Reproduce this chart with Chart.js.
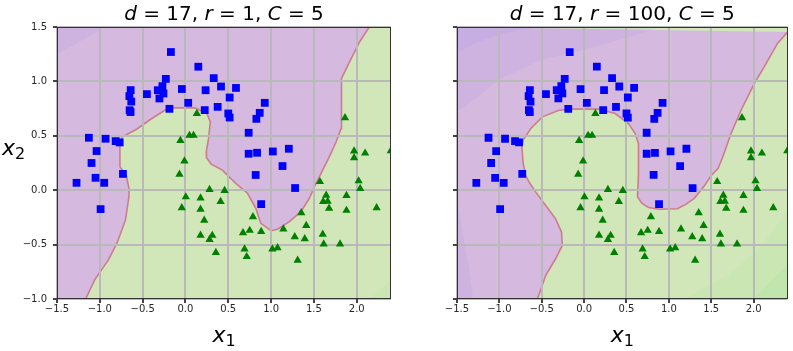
<!DOCTYPE html>
<html>
<head>
<meta charset="utf-8">
<script src="https://cdn.jsdelivr.net/npm/chart.js@4"></script>
<style>
    html, body { margin: 0; padding: 0; background: #fff; }
    #wrap { position: relative; width: 793px; height: 351px; }
    canvas { position: absolute; top: 0; }
</style>
</head>
<body>
<div id="wrap">
    <canvas id="left" width="400" height="351" style="left:0"></canvas>
    <canvas id="right" width="393" height="351" style="left:400px"></canvas>
</div>
<script>
// axes
const xRange = [-1.5, 2.4];
const yRange = [-1.0, 1.5];
const xTicks = [-1.5, -1.0, -0.5, 0.0, 0.5, 1.0, 1.5, 2.0];
const xTickLabels = ['\u22121.5', '\u22121.0', '\u22120.5', '0.0', '0.5', '1.0', '1.5', '2.0'];
const yTicks = [-1.0, -0.5, 0.0, 0.5, 1.0, 1.5];
const yTickLabels = ['\u22121.0', '\u22120.5', '0.0', '0.5', '1.0', '1.5'];

// samples, class 0 (blue squares)
const blueX = [-0.17, 0.15, 0.33, 0.415, 0.59, 0.235, -0.042, -0.229, -0.269, -0.323, -0.257, -0.304,
    -0.187, 0.032, 0.225, 0.376, 0.516, 0.5, 0.516, -0.64, -0.655, -0.633, -0.652, -0.641, -0.45,
    -1.128, -0.933, -0.815, -0.768, -1.038, -1.097, -1.272, -1.05, -0.949, -0.991, -0.73,
    0.926, 0.867, 0.828, 0.738, 0.738, 0.836, 1.02, 1.207, 1.133, 0.82, 1.28, 0.884];
const blueY = [1.27, 1.135, 1.03, 0.953, 0.94, 0.919, 0.93, 1.023, 0.956, 0.919, 0.889, 0.843,
    0.748, 0.803, 0.736, 0.766, 0.852, 0.705, 0.668, 0.92, 0.865, 0.815, 0.735, 0.718, 0.883,
    0.482, 0.473, 0.451, 0.439, 0.36, 0.25, 0.068, 0.114, 0.068, -0.174, 0.15,
    0.803, 0.711, 0.656, 0.528, 0.335, 0.344, 0.356, 0.381, 0.222, 0.14, 0.02, -0.128];

// samples, class 1 (green triangles)
const greenX = [0.133, -0.059, 0.047, 0.094, -0.012, -0.07, 1.863, 1.969, 1.969, 2.098, 2.398,
    0.281, 0.457, 0.004, 0.176, -0.043, 0.176, 0.41, 0.219, 0.176, 0.313, 0.281, 0.355,
    0.788, 0.672, 0.75, 0.884, 0.69, 0.715, 1.015, 1.075, 1.143, 1.276, 1.31, 1.352, 1.41, 1.393,
    1.57, 1.603, 1.614, 1.643, 1.608, 1.66, 1.677, 1.88, 1.88, 1.805, 2.022, 2.04, 2.232];
const greenY = [0.705, 0.457, 0.503, 0.503, 0.268, 0.145, 0.665, 0.359, 0.298, 0.34, 0.362,
    0.006, -0.003, -0.062, -0.072, -0.162, -0.175, -0.105, -0.277, -0.415, -0.416, -0.453, -0.574,
    -0.245, -0.392, -0.37, -0.38, -0.541, -0.611, -0.541, -0.53, -0.358, -0.429, -0.644, -0.208, -0.326, -0.447,
    0.078, -0.406, -0.496, -0.047, -0.105, -0.103, -0.166, -0.05, -0.186, -0.496, 0.085, 0.015, -0.162];

// decision boundary, r = 1
const bound1X = [-1.165, -1.06, -0.9, -0.8, -0.7, -0.66, -0.66, -0.69, -0.765, -0.765, -0.735, -0.57,
    -0.41, -0.25, -0.18, 0.11, 0.25, 0.29, 0.27, 0.243, 0.245, 0.3, 0.431, 0.587, 0.724, 0.821,
    0.88, 0.997, 1.076, 1.213, 1.349, 1.447, 1.506, 1.583, 1.65, 1.7, 1.76, 1.818, 1.818, 1.826,
    1.916, 2.033, 2.146];
const bound1Y = [-1.0, -0.824, -0.64, -0.487, -0.273, -0.06, 0.017, 0.135, 0.216, 0.4, 0.49, 0.56,
    0.65, 0.73, 0.757, 0.757, 0.705, 0.628, 0.476, 0.353, 0.3, 0.24, 0.185, 0.063, -0.028, -0.166,
    -0.304, -0.372, -0.359, -0.289, -0.197, -0.074, 0.032, 0.155, 0.26, 0.34, 0.445, 0.568, 0.904, 1.027,
    1.179, 1.362, 1.5];

// decision boundary, r = 100
const bound2X = [-0.551, -0.453, -0.336, -0.258, -0.266, -0.336, -0.453, -0.57, -0.648, -0.69, -0.72,
    -0.734, -0.719, -0.629, -0.492, -0.297, -0.141, 0.172, 0.367, 0.523, 0.602, 0.641, 0.645, 0.638,
    0.63, 0.68, 0.76, 0.88, 1.1, 1.2, 1.3, 1.422, 1.5, 1.58, 1.637, 1.734, 1.852, 2.008, 2.125, 2.28, 2.4];
const bound2Y = [-1.0, -0.783, -0.63, -0.508, -0.385, -0.263, -0.14, -0.018, 0.073, 0.135, 0.25,
    0.399, 0.46, 0.567, 0.674, 0.735, 0.745, 0.745, 0.705, 0.613, 0.521, 0.43, 0.3, 0.15,
    -0.06, -0.12, -0.16, -0.175, -0.17, -0.13, -0.075, 0.043, 0.135, 0.2, 0.307, 0.521, 0.735, 0.98, 1.133, 1.347, 1.454];

// faint decision-function bands
const band1TLX = [-1.5, -1.49, -1.2, -0.94];
const band1TLY = [1.5, 1.256, 1.38, 1.5];
const band1BRX = [2.15, 2.4, 2.4];
const band1BRY = [-1.0, -0.83, -1.0];
const band2TLOuterX = [-1.5, -1.5, -1.4, -1.0, -0.5, 0.0, 0.5, 0.9];
const band2TLOuterY = [1.5, 0.73, 0.77, 1.02, 1.2, 1.29, 1.4, 1.5];
const band2TLInnerX = [-1.5, -1.5, -1.28, -1.008, -0.733, -0.5];
const band2TLInnerY = [1.5, 1.26, 1.353, 1.43, 1.476, 1.5];
const band2BLX = [-1.5, -1.31, -1.36, -1.42, -1.49, -1.5];
const band2BLY = [-1.0, -1.0, -0.7, -0.45, -0.14, -0.1];
const band2BR1X = [1.2, 1.7, 2.05, 2.4, 2.4];
const band2BR1Y = [-1.0, -0.78, -0.55, -0.2, -1.0];
const band2BR2X = [2.0, 2.4, 2.4];
const band2BR2Y = [-1.0, -0.68, -1.0];

const PURPLE = '#d5b9de';
const GREEN = '#d1e6b9';
const GRID = '#b9b9b9';
const BLUE_TINT = 'rgba(120,120,255,0.07)';
const GREEN_TINT = 'rgba(120,235,120,0.09)';
const TICK_FONT = { family: 'DejaVu Sans', size: 10 };

function pts(xs, ys) {
    return xs.map((x, i) => ({ x: x, y: ys[i] }));
}

function region(xs, ys, color, order) {
    return { data: pts(xs, ys), showLine: true, fill: 'shape', backgroundColor: color,
        borderWidth: 0, pointRadius: 0, order: order, clip: 0 };
}

function drawMath(ctx, parts, cx, baseline) {
    let total = 0;
    parts.forEach(p => {
        ctx.font = (p.it ? 'italic ' : '') + p.size + 'px "DejaVu Sans"';
        p.w = ctx.measureText(p.t).width;
        total += p.w;
    });
    let x = cx - total / 2;
    ctx.fillStyle = '#000';
    ctx.textBaseline = 'alphabetic';
    ctx.textAlign = 'left';
    parts.forEach(p => {
        ctx.font = (p.it ? 'italic ' : '') + p.size + 'px "DejaVu Sans"';
        ctx.fillText(p.t, x, baseline + (p.dy || 0));
        x += p.w;
    });
}

function titleParts(r) {
    return [
        { t: 'd', it: true, size: 20 }, { t: ' = 17, ', size: 20 },
        { t: 'r', it: true, size: 20 }, { t: ' = ' + r + ', ', size: 20 },
        { t: 'C', it: true, size: 20 }, { t: ' = 5', size: 20 }
    ];
}

// grid lines and tick marks, placed with the chart's own scales
function drawGridAndTicks(chart) {
    const ctx = chart.ctx;
    const a = chart.chartArea;
    const sx = chart.scales.x;
    const sy = chart.scales.y;
    const xs = xTicks.map(v => Math.round(sx.getPixelForValue(v)));
    const ys = yTicks.map(v => Math.round(sy.getPixelForValue(v)));
    ctx.save();
    ctx.fillStyle = GRID;
    xs.forEach(px => ctx.fillRect(px - 1, a.top, 2, a.bottom - a.top));
    ys.forEach(py => ctx.fillRect(a.left, py - 1, a.right - a.left, 2));
    ctx.fillStyle = '#444';
    xs.forEach(px => ctx.fillRect(px - 1, a.bottom, 2, 4));
    ys.forEach(py => ctx.fillRect(a.left - 4, py - 1, 4, 2));
    ctx.restore();
}

function makeChart(id, r, regions, boundX, boundY, showY, padRight) {
    const textPlugin = {
        id: 'mathText',
        beforeDraw(chart) {
            const ctx = chart.ctx;
            const a = chart.chartArea;
            ctx.save();
            ctx.fillStyle = GREEN;
            ctx.fillRect(a.left, a.top, a.right - a.left, a.bottom - a.top);
            ctx.restore();
        },
        beforeDatasetDraw(chart, args) {
            // grid goes over the fills, under the markers
            if (args.index === 1) drawGridAndTicks(chart);
        },
        afterDraw(chart) {
            const ctx = chart.ctx;
            const a = chart.chartArea;
            ctx.save();
            ctx.strokeStyle = '#333';
            ctx.lineWidth = 1;
            ctx.strokeRect(Math.round(a.left) + 0.5, Math.round(a.top) + 0.5,
                Math.round(a.right - a.left) - 1, Math.round(a.bottom - a.top) - 1);
            const cx = (a.left + a.right) / 2;
            drawMath(ctx, titleParts(r), cx, 19.5);
            drawMath(ctx, [{ t: 'x', it: true, size: 22 }, { t: '1', size: 16, dy: 4 }], cx, 341.5);
            if (showY) {
                ctx.font = 'italic 22px "DejaVu Sans"';
                ctx.fillStyle = '#000';
                ctx.fillText('x', 2, 154.5);
                const w = ctx.measureText('x').width;
                ctx.font = '16px "DejaVu Sans"';
                ctx.fillText('2', 2 + w, 158.5);
            }
            ctx.restore();
        }
    };

    const datasets = [
        { data: pts(blueX, blueY), pointStyle: 'rect', pointRadius: 5.5, backgroundColor: '#0000ff',
            borderColor: '#0000ff', borderWidth: 0, order: 0, clip: 0 },
        { data: pts(greenX, greenY), pointStyle: 'triangle', pointRadius: 4.8, backgroundColor: '#008000',
            borderColor: '#008000', borderWidth: 0, order: 1, clip: 0 },
        { data: pts(boundX, boundY), showLine: true, fill: false, borderColor: 'rgba(205,115,135,0.9)',
            borderWidth: 1.6, pointRadius: 0, order: 2, clip: 0 },
        region([xRange[0]].concat(boundX, [xRange[0]]), [yRange[0]].concat(boundY, [yRange[1]]), PURPLE, 9)
    ].concat(regions);

    const hidden = 'rgba(0,0,0,0)';
    return new Chart(document.getElementById(id), {
        type: 'scatter',
        data: { datasets: datasets },
        plugins: [textPlugin],
        options: {
            responsive: false,
            animation: false,
            devicePixelRatio: 1,
            layout: { padding: { top: 27, right: padRight, bottom: 0, left: 0 } },
            plugins: { legend: { display: false }, tooltip: { enabled: false } },
            scales: {
                x: {
                    type: 'linear', min: xRange[0], max: xRange[1],
                    afterBuildTicks: s => { s.ticks = xTicks.map(v => ({ value: v })); },
                    afterFit: s => { s.height = 52; },
                    ticks: { callback: (v, i) => xTickLabels[i], font: TICK_FONT, color: '#262626',
                        padding: 0, maxRotation: 0, autoSkip: false },
                    grid: { color: hidden, tickColor: hidden, tickLength: 4 },
                    border: { display: false }
                },
                y: {
                    type: 'linear', min: yRange[0], max: yRange[1],
                    afterBuildTicks: s => { s.ticks = yTicks.map(v => ({ value: v })); },
                    afterFit: s => { s.width = 57; },
                    ticks: { callback: (v, i) => yTickLabels[i], font: TICK_FONT,
                        color: showY ? '#262626' : hidden, padding: 6, autoSkip: false },
                    grid: { color: hidden, tickColor: hidden, tickLength: 4 },
                    border: { display: false }
                }
            }
        }
    });
}

makeChart('left', 1, [
    region(band1TLX, band1TLY, BLUE_TINT, 5),
    region(band1BRX, band1BRY, GREEN_TINT, 5)
], bound1X, bound1Y, true, 9);

makeChart('right', 100, [
    region(band2TLOuterX, band2TLOuterY, BLUE_TINT, 6),
    region(band2TLInnerX, band2TLInnerY, BLUE_TINT, 5),
    region(band2BLX, band2BLY, BLUE_TINT, 5),
    region(band2BR1X, band2BR1Y, GREEN_TINT, 6),
    region(band2BR2X, band2BR2Y, GREEN_TINT, 5)
], bound2X, bound2Y, false, 2);
</script>
</body>
</html>
